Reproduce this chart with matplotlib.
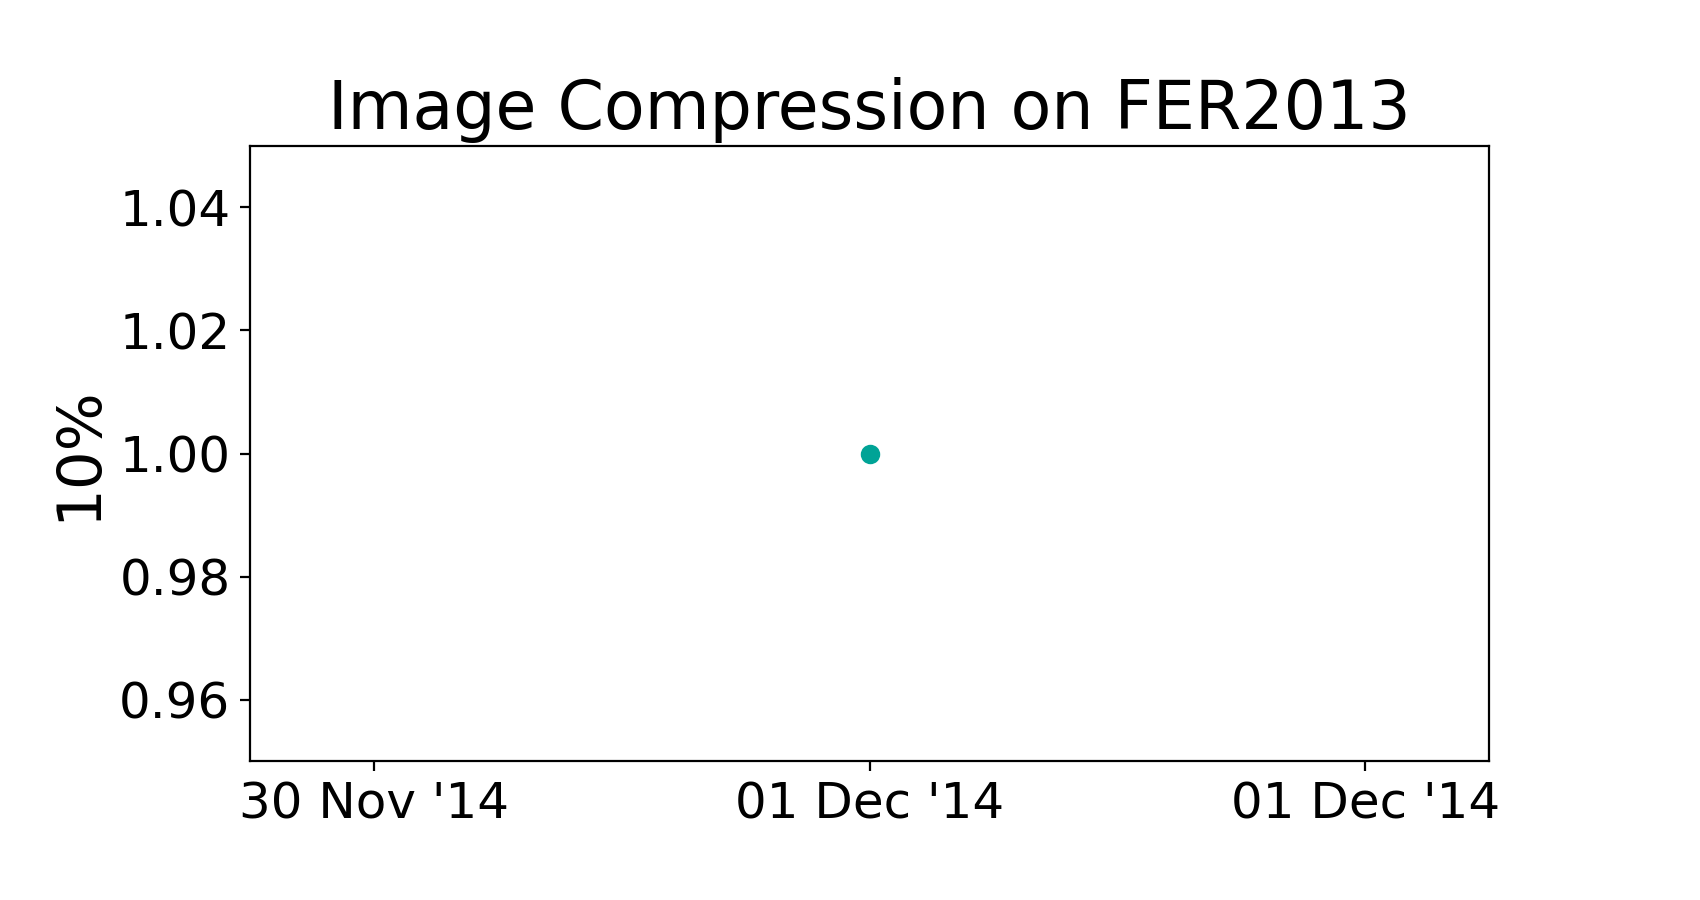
import datetime as dt

import matplotlib

matplotlib.use("Agg")
import matplotlib.dates as mdates
import matplotlib.pyplot as plt

# one measurement on FER2013
dates = [dt.datetime(2014, 12, 1)]
values = [1.0]

TITLE = "Image Compression on FER2013"
YLABEL = "10%"
POINT_COLOR = "#00a396"

fig, ax = plt.subplots(figsize=(8.5, 4.5), dpi=200)
fig.subplots_adjust(left=0.147, right=0.876, top=0.838, bottom=0.154)

ax.plot(dates, values, "o", color=POINT_COLOR, markersize=6)

center = dates[0]
ax.set_xlim(center - dt.timedelta(hours=15), center + dt.timedelta(hours=15))
ax.set_ylim(0.95, 1.05)
ax.xaxis.set_major_locator(mdates.HourLocator(byhour=[0, 12]))
ax.xaxis.set_major_formatter(mdates.DateFormatter("%d %b '%y"))
ax.set_yticks([0.96, 0.98, 1.00, 1.02, 1.04])

ax.tick_params(labelsize=18)
ax.set_ylabel(YLABEL, fontsize=22)
ax.set_title(TITLE, fontsize=24)

fig.savefig("out.png", dpi=200)
